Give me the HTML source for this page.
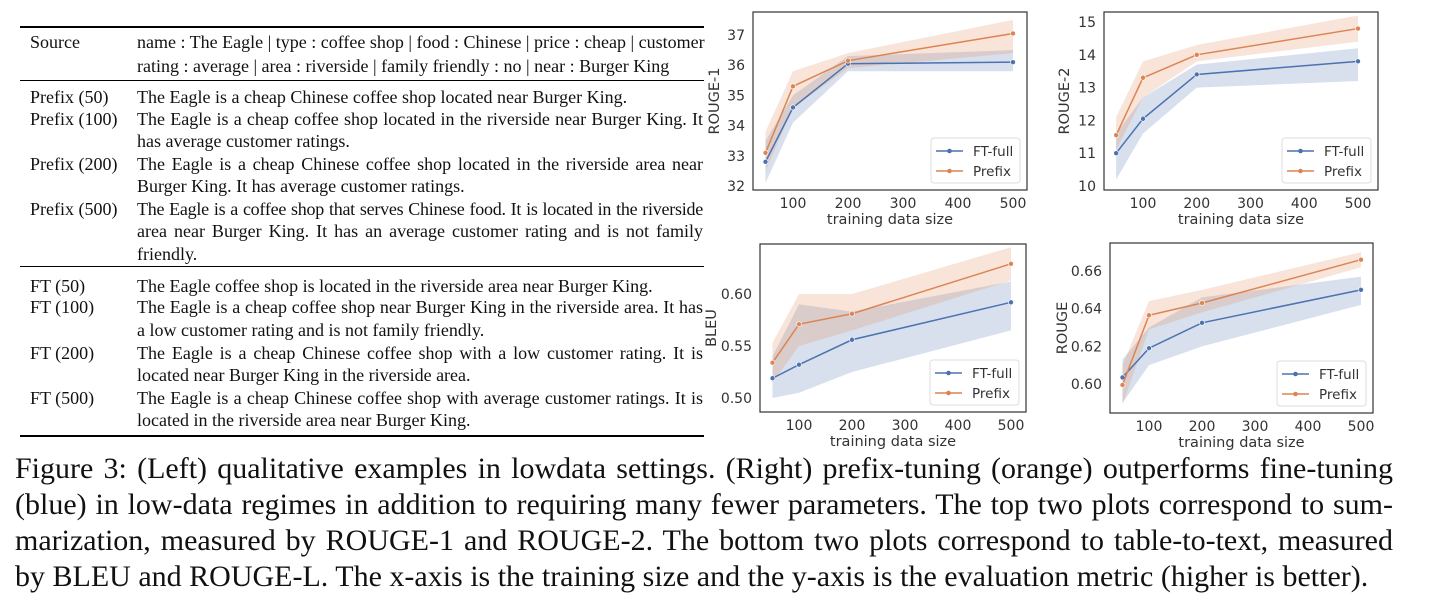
<!DOCTYPE html>
<html><head><meta charset="utf-8">
<style>
body{margin:0;width:1440px;height:615px;background:#fff;position:relative;overflow:hidden;font-family:"Liberation Serif",serif;color:#111}
.t{position:absolute;font-size:18px;line-height:20px;white-space:nowrap}
.j{position:absolute;font-size:18px;line-height:20px;text-align:justify;text-align-last:justify;width:566px;left:137px;white-space:nowrap}
.rule{position:absolute;left:20px;width:684px;background:#000}
.cap{position:absolute;left:15px;width:1378px;font-size:30px;line-height:32px;text-align:justify;text-align-last:justify;white-space:nowrap}
svg text{font-family:"DejaVu Sans",sans-serif;fill:#333}
</style></head><body>
<div>
<div class="rule" style="top:26px;height:1.5px"></div>
<div class="rule" style="top:80px;height:1px"></div>
<div class="rule" style="top:266px;height:1px"></div>
<div class="rule" style="top:435px;height:1.5px"></div>
<div class="t" style="left:30px;top:32px">Source</div>
<div class="j" style="top:32px">name : The Eagle | type : coffee shop | food : Chinese | price : cheap | customer</div>
<div class="t" style="left:137px;top:56px">rating : average | area : riverside | family friendly : no | near : Burger King</div>
<div class="t" style="left:30px;top:87px">Prefix (50)</div>
<div class="t" style="left:137px;top:87px">The Eagle is a cheap Chinese coffee shop located near Burger King.</div>
<div class="t" style="left:30px;top:109px">Prefix (100)</div>
<div class="j" style="top:109px">The Eagle is a cheap coffee shop located in the riverside near Burger King. It</div>
<div class="t" style="left:137px;top:131px">has average customer ratings.</div>
<div class="t" style="left:30px;top:154px">Prefix (200)</div>
<div class="j" style="top:154px">The Eagle is a cheap Chinese coffee shop located in the riverside area near</div>
<div class="t" style="left:137px;top:176px">Burger King. It has average customer ratings.</div>
<div class="t" style="left:30px;top:199px">Prefix (500)</div>
<div class="j" style="top:199px;letter-spacing:-0.25px">The Eagle is a coffee shop that serves Chinese food. It is located in the riverside</div>
<div class="j" style="top:221px">area near Burger King. It has an average customer rating and is not family</div>
<div class="t" style="left:137px;top:244px">friendly.</div>
<div class="t" style="left:30px;top:276px">FT (50)</div>
<div class="t" style="left:137px;top:276px">The Eagle coffee shop is located in the riverside area near Burger King.</div>
<div class="t" style="left:30px;top:297px">FT (100)</div>
<div class="j" style="top:297px">The Eagle is a cheap coffee shop near Burger King in the riverside area. It has</div>
<div class="t" style="left:137px;top:320px">a low customer rating and is not family friendly.</div>
<div class="t" style="left:30px;top:343px">FT (200)</div>
<div class="j" style="top:343px">The Eagle is a cheap Chinese coffee shop with a low customer rating. It is</div>
<div class="t" style="left:137px;top:365px">located near Burger King in the riverside area.</div>
<div class="t" style="left:30px;top:388px">FT (500)</div>
<div class="j" style="top:388px">The Eagle is a cheap Chinese coffee shop with average customer ratings. It is</div>
<div class="t" style="left:137px;top:410px">located in the riverside area near Burger King.</div>
</div>

<svg id="charts" width="1440" height="455" style="position:absolute;left:0;top:0"></svg>

<div>
<div class="cap" style="top:453px">Figure 3: (Left) qualitative examples in lowdata settings. (Right) prefix-tuning (orange) outperforms fine-tuning</div>
<div class="cap" style="top:489px">(blue) in low-data regimes in addition to requiring many fewer parameters. The top two plots correspond to sum-</div>
<div class="cap" style="top:525px">marization, measured by ROUGE-1 and ROUGE-2. The bottom two plots correspond to table-to-text, measured</div>
<div class="cap" style="top:561px;text-align-last:left;width:auto">by BLEU and ROUGE-L. The x-axis is the training size and the y-axis is the evaluation metric (higher is better).</div>
</div>

<script>
const sizes=[50,100,200,500];
const xTicks=[100,200,300,400,500];
// ROUGE-1
const r1Ticks=[32,33,34,35,36,37];
const r1Ft=[32.8,34.6,36.05,36.1];
const r1FtLo=[32.1,34.1,35.8,35.8];
const r1FtHi=[33.5,35.0,36.3,36.5];
const r1Pre=[33.1,35.3,36.15,37.05];
const r1PreLo=[32.5,34.6,35.9,36.4];
const r1PreHi=[33.8,35.8,36.4,37.5];
// ROUGE-2
const r2Ticks=[10,11,12,13,14,15];
const r2Ft=[11.0,12.05,13.4,13.8];
const r2FtLo=[10.2,11.6,13.0,13.2];
const r2FtHi=[11.6,12.7,13.7,14.2];
const r2Pre=[11.55,13.3,14.0,14.8];
const r2PreLo=[11.1,12.7,13.8,14.4];
const r2PreHi=[12.1,13.8,14.3,15.2];
// BLEU
const blTicks=[0.50,0.55,0.60];
const blFt=[0.519,0.532,0.556,0.592];
const blFtLo=[0.500,0.505,0.525,0.565];
const blFtHi=[0.540,0.590,0.583,0.612];
const blPre=[0.534,0.571,0.581,0.629];
const blPreLo=[0.515,0.550,0.565,0.613];
const blPreHi=[0.553,0.600,0.600,0.645];
// ROUGE-L
const rlTicks=[0.60,0.62,0.64,0.66];
const rlFt=[0.6035,0.619,0.6325,0.650];
const rlFtLo=[0.590,0.610,0.620,0.642];
const rlFtHi=[0.613,0.630,0.646,0.657];
const rlPre=[0.5995,0.6365,0.643,0.666];
const rlPreLo=[0.589,0.629,0.638,0.662];
const rlPreHi=[0.610,0.644,0.650,0.670];

const NS='http://www.w3.org/2000/svg';
const svg=document.getElementById('charts');
function mk(tag,attrs,parent){const e=document.createElementNS(NS,tag);for(const k in attrs)e.setAttribute(k,attrs[k]);(parent||svg).appendChild(e);return e;}
const BLUE='#4c72b0',ORANGE='#dd8452';

function chart(cfg){
  const g=mk('g',{});
  
  
  const sx=v=>cfg.x100+(v-100)*(cfg.x500-cfg.x100)/400;
  const sy=v=>cfg.yA+(v-cfg.vA)*(cfg.yB-cfg.yA)/(cfg.vB-cfg.vA);
  function band(lo,hi,col,nm){
    let d='M'+sizes.map((s,i)=>sx(s)+','+sy(hi[i])).join('L')+'L'+sizes.map((s,i)=>sx(s)+','+sy(lo[i])).reverse().join('L')+'Z';
    const p=mk('path',{d:d,fill:col,'fill-opacity':0.22,stroke:'none'},g);
    
    
  }
  function line(vals,col,nm){
    const p=mk('polyline',{points:sizes.map((s,i)=>sx(s)+','+sy(vals[i])).join(' '),fill:'none',stroke:col,'stroke-width':1.5},g);
    
    
    sizes.forEach((s,i)=>{
      const c=mk('circle',{cx:sx(s),cy:sy(vals[i]),r:2.5,fill:col,stroke:'#fff','stroke-width':0.6},g);
      
      
    });
  }
  band(cfg.ftLo,cfg.ftHi,BLUE,'ft-full-band');
  band(cfg.preLo,cfg.preHi,ORANGE,'prefix-band');
  line(cfg.ft,BLUE,'ft-full');
  line(cfg.pre,ORANGE,'prefix');
  const fr=mk('rect',{x:cfg.L,y:cfg.T,width:cfg.R-cfg.L,height:cfg.B-cfg.T,fill:'none',stroke:'#333','stroke-width':1.2},g);
  
  
  xTicks.forEach(t=>{
    const e=mk('text',{x:sx(t),y:cfg.B+18,'text-anchor':'middle','font-size':14},g);e.textContent=t;
    
    
  });
  cfg.ticks.forEach(t=>{
    const e=mk('text',{x:cfg.L-8,y:sy(t)+5,'text-anchor':'end','font-size':14},g);e.textContent=cfg.fmt(t);
    
    
  });
  const xl=mk('text',{x:(cfg.L+cfg.R)/2,y:cfg.B+34,'text-anchor':'middle','font-size':14.5},g);xl.textContent='training data size';
  
  
  const yc=(cfg.T+cfg.B)/2;
  const yl=mk('text',{x:cfg.yTitleX,y:yc,'text-anchor':'middle','font-size':14.5,transform:'rotate(-90 '+cfg.yTitleX+' '+yc+')'},g);yl.textContent=cfg.ylabel;
  
  
  const lx=cfg.R-96,ly=cfg.B-52;
  const lg=mk('g',{},g);
  
  
  mk('rect',{x:lx,y:ly,width:89,height:45,rx:3,fill:'#fff','fill-opacity':0.8,stroke:'#ddd'},lg);
  [['FT-full',BLUE],['Prefix',ORANGE]].forEach((e,i)=>{
    const yy=ly+13+i*20;
    mk('line',{x1:lx+5,x2:lx+32,y1:yy,y2:yy,stroke:e[1],'stroke-width':1.5},lg);
    mk('circle',{cx:lx+18.5,cy:yy,r:2.3,fill:e[1]},lg);
    const t=mk('text',{x:lx+42,y:yy+5,'font-size':13.5},lg);t.textContent=e[0];
    
    
  });
}
chart({name:'rouge1-chart',L:753,R:1027,T:12,B:190,x100:793,x500:1013,vA:37,yA:35,vB:32,yB:186,ticks:r1Ticks,fmt:t=>t,ylabel:'ROUGE-1',yTitleX:719,ft:r1Ft,ftLo:r1FtLo,ftHi:r1FtHi,pre:r1Pre,preLo:r1PreLo,preHi:r1PreHi});
chart({name:'rouge2-chart',L:1104,R:1378,T:12,B:190,x100:1143,x500:1358,vA:15,yA:22,vB:10,yB:186,ticks:r2Ticks,fmt:t=>t,ylabel:'ROUGE-2',yTitleX:1069,ft:r2Ft,ftLo:r2FtLo,ftHi:r2FtHi,pre:r2Pre,preLo:r2PreLo,preHi:r2PreHi});
chart({name:'bleu-chart',L:760,R:1026,T:244,B:412,x100:799,x500:1011,vA:0.60,yA:294,vB:0.50,yB:398,ticks:blTicks,fmt:t=>t.toFixed(2),ylabel:'BLEU',yTitleX:716,ft:blFt,ftLo:blFtLo,ftHi:blFtHi,pre:blPre,preLo:blPreLo,preHi:blPreHi});
chart({name:'rougel-chart',L:1110,R:1373,T:243,B:413,x100:1149,x500:1361,vA:0.66,yA:271,vB:0.60,yB:384,ticks:rlTicks,fmt:t=>t.toFixed(2),ylabel:'ROUGE',yTitleX:1067,ft:rlFt,ftLo:rlFtLo,ftHi:rlFtHi,pre:rlPre,preLo:rlPreLo,preHi:rlPreHi});
</script>
</body></html>
